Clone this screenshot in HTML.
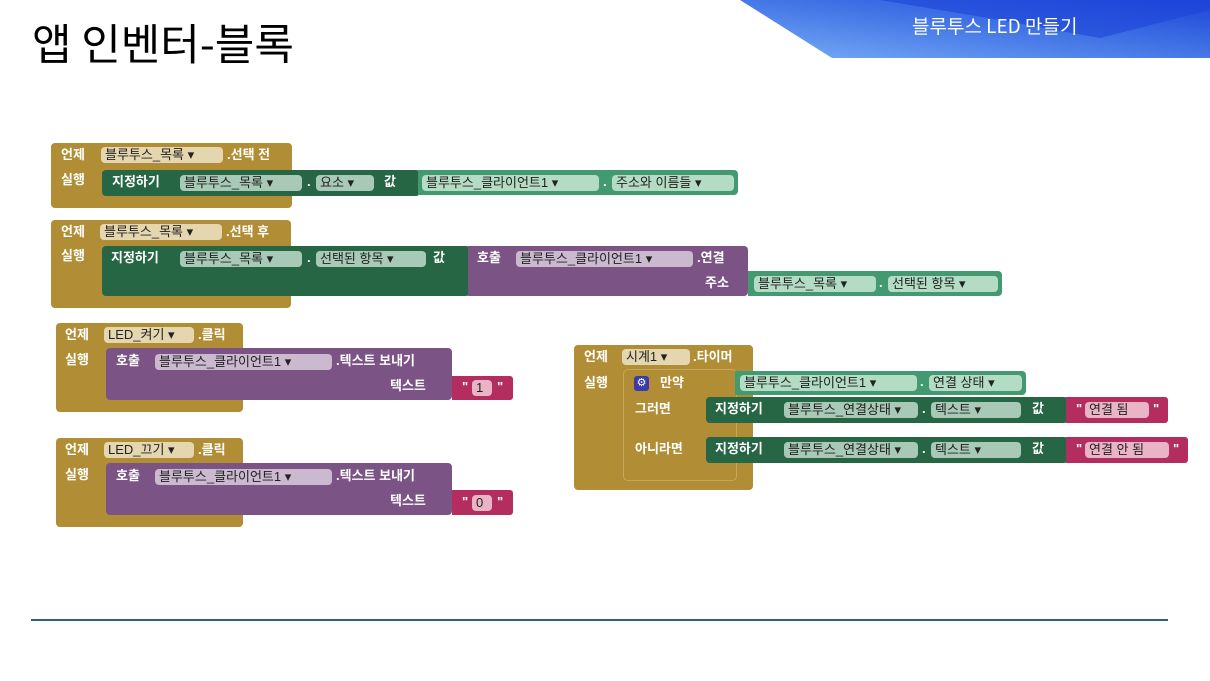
<!DOCTYPE html>
<html><head><meta charset="utf-8"><style>
body{margin:0;width:1210px;height:681px;position:relative;overflow:hidden;background:#fff;font-family:"Liberation Sans","Noto Sans CJK KR",sans-serif}
.b{position:absolute;box-sizing:border-box;border-radius:4px}
.ev{background:#b18e35}
.dg{background:#266645}
.lg{background:#439970}
.pu{background:#7c5385}
.pk{background:#b32d5e}
.t{position:absolute;color:#fff;font-weight:bold;font-size:13px;line-height:16px;white-space:nowrap}
.f{position:absolute;height:16px;border-radius:4px;font-size:13px;line-height:16px;color:#222;white-space:nowrap;padding:0 4px;box-sizing:border-box}
.fe{background:#e4d6ae}
.fg{background:#a8c9b6}
.fl{background:#b4dcc4}
.fp{background:#cbbacf}
.fk{background:#e9b4c6}
</style></head><body>
<div style="position:absolute;left:32px;top:12px;font-size:43px;line-height:60px;font-family:'Noto Sans CJK KR',sans-serif">앱 인벤터-블록</div>
<svg style="position:absolute;left:0;top:0" width="1210" height="60">
<defs><linearGradient id="g" x1="0" y1="1" x2="1" y2="0"><stop offset="0" stop-color="#78acf6"/><stop offset="0.45" stop-color="#4a7de8"/><stop offset="1" stop-color="#1c45d8"/></linearGradient></defs>
<polygon points="740,0 1210,0 1210,58 832,58" fill="url(#g)"/>
<polygon points="880,0 1210,0 1210,10 1100,38 1000,20" fill="#1c45d8" opacity="0.6"/>
</svg>
<div style="position:absolute;left:912px;top:14px;color:#fff;font-size:19px;line-height:24px;font-family:'Noto Sans CJK KR',sans-serif">블루투스 LED 만들기</div>
<div style="position:absolute;left:31px;top:619px;width:1137px;height:2px;background:#2e5f8a"></div>

<!-- block 1 -->
<div class="b ev" style="left:51px;top:143px;width:241px;height:65px"></div>
<div class="t" style="left:61px;top:147px">언제</div>
<div class="f fe" style="left:101px;top:147px;width:122px">블루투스_목록 ▾</div>
<div class="t" style="left:227px;top:147px">.선택 전</div>
<div class="t" style="left:61px;top:172px">실행</div>
<div class="b dg" style="left:102px;top:170px;width:318px;height:26px"></div>
<div class="t" style="left:112px;top:174px">지정하기</div>
<div class="f fg" style="left:180px;top:175px;width:122px">블루투스_목록 ▾</div>
<div class="t" style="left:307px;top:174px">.</div>
<div class="f fg" style="left:316px;top:175px;width:58px">요소 ▾</div>
<div class="t" style="left:384px;top:174px">값</div>
<div class="b lg" style="left:418px;top:170px;width:320px;height:25px;border-radius:0 4px 4px 0"></div>
<div class="f fl" style="left:422px;top:175px;width:177px">블루투스_클라이언트1 ▾</div>
<div class="t" style="left:603px;top:174px">.</div>
<div class="f fl" style="left:612px;top:175px;width:122px">주소와 이름들 ▾</div>

<!-- block 2 -->
<div class="b ev" style="left:51px;top:220px;width:240px;height:88px"></div>
<div class="t" style="left:61px;top:224px">언제</div>
<div class="f fe" style="left:100px;top:224px;width:122px">블루투스_목록 ▾</div>
<div class="t" style="left:226px;top:224px">.선택 후</div>
<div class="t" style="left:61px;top:248px">실행</div>
<div class="b dg" style="left:102px;top:246px;width:368px;height:50px"></div>
<div class="t" style="left:111px;top:250px">지정하기</div>
<div class="f fg" style="left:180px;top:251px;width:122px">블루투스_목록 ▾</div>
<div class="t" style="left:307px;top:250px">.</div>
<div class="f fg" style="left:316px;top:251px;width:110px">선택된 항목 ▾</div>
<div class="t" style="left:433px;top:250px">값</div>
<div class="b pu" style="left:468px;top:246px;width:280px;height:50px;border-radius:0 4px 4px 0"></div>
<div class="t" style="left:477px;top:250px">호출</div>
<div class="f fp" style="left:516px;top:251px;width:177px">블루투스_클라이언트1 ▾</div>
<div class="t" style="left:697px;top:250px">.연결</div>
<div class="t" style="left:705px;top:275px">주소</div>
<div class="b lg" style="left:748px;top:271px;width:254px;height:25px;border-radius:0 4px 4px 0"></div>
<div class="f fl" style="left:754px;top:276px;width:122px">블루투스_목록 ▾</div>
<div class="t" style="left:879px;top:275px">.</div>
<div class="f fl" style="left:888px;top:276px;width:110px">선택된 항목 ▾</div>

<!-- block 3 -->
<div class="b ev" style="left:56px;top:323px;width:187px;height:89px"></div>
<div class="t" style="left:65px;top:327px">언제</div>
<div class="f fe" style="left:104px;top:327px;width:90px">LED_켜기 ▾</div>
<div class="t" style="left:198px;top:327px">.클릭</div>
<div class="t" style="left:65px;top:352px">실행</div>
<div class="b pu" style="left:106px;top:348px;width:346px;height:52px"></div>
<div class="t" style="left:116px;top:353px">호출</div>
<div class="f fp" style="left:155px;top:354px;width:177px">블루투스_클라이언트1 ▾</div>
<div class="t" style="left:336px;top:353px">.텍스트 보내기</div>
<div class="t" style="left:390px;top:378px">텍스트</div>
<div class="b pk" style="left:452px;top:376px;width:61px;height:24px;border-radius:0 3px 3px 0"></div>
<div class="t" style="left:462px;top:379px">"</div>
<div class="f fk" style="left:472px;top:380px;width:20px">1</div>
<div class="t" style="left:497px;top:379px">"</div>

<!-- block 4 -->
<div class="b ev" style="left:56px;top:438px;width:187px;height:89px"></div>
<div class="t" style="left:65px;top:442px">언제</div>
<div class="f fe" style="left:104px;top:442px;width:90px">LED_끄기 ▾</div>
<div class="t" style="left:198px;top:442px">.클릭</div>
<div class="t" style="left:65px;top:467px">실행</div>
<div class="b pu" style="left:106px;top:463px;width:346px;height:52px"></div>
<div class="t" style="left:116px;top:468px">호출</div>
<div class="f fp" style="left:155px;top:469px;width:177px">블루투스_클라이언트1 ▾</div>
<div class="t" style="left:336px;top:468px">.텍스트 보내기</div>
<div class="t" style="left:390px;top:493px">텍스트</div>
<div class="b pk" style="left:452px;top:490px;width:61px;height:25px;border-radius:0 3px 3px 0"></div>
<div class="t" style="left:462px;top:494px">"</div>
<div class="f fk" style="left:472px;top:495px;width:20px">0</div>
<div class="t" style="left:497px;top:494px">"</div>

<!-- block 5 -->
<div class="b ev" style="left:574px;top:345px;width:179px;height:145px"></div>
<div class="t" style="left:584px;top:349px">언제</div>
<div class="f fe" style="left:622px;top:349px;width:68px">시계1 ▾</div>
<div class="t" style="left:693px;top:349px">.타이머</div>
<div class="t" style="left:584px;top:375px">실행</div>
<div class="b ev" style="left:624px;top:370px;width:112px;height:110px;box-shadow:0 0 0 1px #c9a75a"></div>
<div style="position:absolute;left:634px;top:376px;width:15px;height:15px;background:#3c3ca8;border-radius:3px;color:#fff;font-size:11px;line-height:15px;text-align:center">⚙</div>
<div class="t" style="left:660px;top:375px">만약</div>
<div class="t" style="left:635px;top:401px">그러면</div>
<div class="t" style="left:635px;top:441px">아니라면</div>
<div class="b lg" style="left:735px;top:371px;width:291px;height:24px;border-radius:0 4px 4px 0"></div>
<div class="f fl" style="left:740px;top:375px;width:177px">블루투스_클라이언트1 ▾</div>
<div class="t" style="left:920px;top:374px">.</div>
<div class="f fl" style="left:929px;top:375px;width:93px">연결 상태 ▾</div>
<div class="b dg" style="left:706px;top:397px;width:362px;height:26px"></div>
<div class="t" style="left:715px;top:401px">지정하기</div>
<div class="f fg" style="left:784px;top:402px;width:134px">블루투스_연결상태 ▾</div>
<div class="t" style="left:922px;top:401px">.</div>
<div class="f fg" style="left:931px;top:402px;width:90px">텍스트 ▾</div>
<div class="t" style="left:1032px;top:401px">값</div>
<div class="b pk" style="left:1066px;top:397px;width:102px;height:26px;border-radius:0 3px 3px 0"></div>
<div class="t" style="left:1076px;top:401px">"</div>
<div class="f fk" style="left:1085px;top:402px;width:64px">연결 됨</div>
<div class="t" style="left:1153px;top:401px">"</div>
<div class="b dg" style="left:706px;top:437px;width:362px;height:26px"></div>
<div class="t" style="left:715px;top:441px">지정하기</div>
<div class="f fg" style="left:784px;top:442px;width:134px">블루투스_연결상태 ▾</div>
<div class="t" style="left:922px;top:441px">.</div>
<div class="f fg" style="left:931px;top:442px;width:90px">텍스트 ▾</div>
<div class="t" style="left:1032px;top:441px">값</div>
<div class="b pk" style="left:1066px;top:437px;width:122px;height:26px;border-radius:0 3px 3px 0"></div>
<div class="t" style="left:1076px;top:441px">"</div>
<div class="f fk" style="left:1085px;top:442px;width:84px">연결 안 됨</div>
<div class="t" style="left:1173px;top:441px">"</div>
</body></html>
